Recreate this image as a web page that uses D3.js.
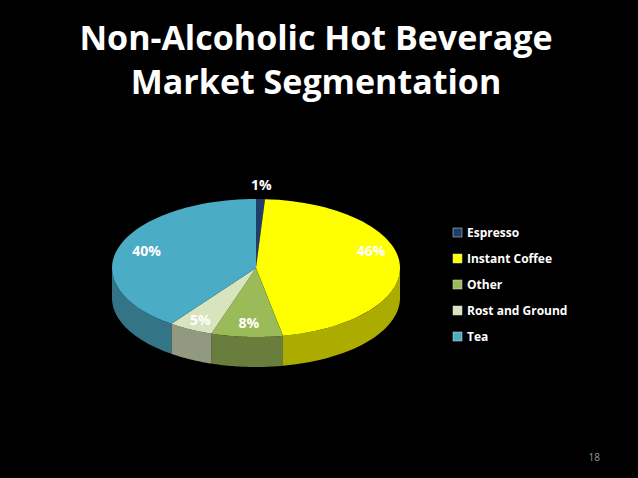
<!DOCTYPE html>
<html><head><meta charset="utf-8">
<script src="https://cdn.jsdelivr.net/npm/d3@7"></script>
<style>body{margin:0;background:#000}svg{display:block}</style>
</head><body>
<svg id="chart"></svg>
<script>
var categories = ["Espresso", "Instant Coffee", "Other", "Rost and Ground", "Tea"];
var values = [1, 46, 8, 5, 40];
var labels = ["1%", "46%", "8%", "5%", "40%"];
var colors = ["#1f3d6b", "#ffff00", "#9bbb59", "#d7e4bd", "#4bacc6"];

var width = 638, height = 478;
var cx = 256, cy = 268, rx = 144, ry = 69, depth = 30;

var svg = d3.select("#chart").attr("width", width).attr("height", height);

svg.append("text").attr("x", 316).attr("y", 50).attr("text-anchor", "middle")
  .attr("fill", "#fff").attr("font-family", "Open Sans").attr("font-weight", "bold")
  .attr("font-size", 34).text("Non-Alcoholic Hot Beverage");
svg.append("text").attr("x", 316).attr("y", 94).attr("text-anchor", "middle")
  .attr("fill", "#fff").attr("font-family", "Open Sans").attr("font-weight", "bold")
  .attr("font-size", 34).text("Market Segmentation");

var arcs = d3.pie().sort(null)(values);
// angle 0 = top, clockwise
function px(a, k) { return cx + Math.sin(a) * rx * (k || 1); }
function py(a, k) { return cy - Math.cos(a) * ry * (k || 1); }

var g = svg.append("g");

// sides (front half: angle between PI/2 and 3PI/2)
arcs.forEach(function(d, i) {
  var a0 = Math.max(d.startAngle, Math.PI / 2), a1 = Math.min(d.endAngle, 3 * Math.PI / 2);
  if (a1 <= a0) return;
  var n = 30, pts = [], j, a;
  for (j = 0; j <= n; j++) { a = a0 + (a1 - a0) * j / n; pts.push([px(a), py(a)]); }
  for (j = n; j >= 0; j--) { a = a0 + (a1 - a0) * j / n; pts.push([px(a), py(a) + depth]); }
  g.append("path").attr("d", d3.line()(pts) + "Z")
    .attr("fill", d3.color(colors[i]).darker(1.1));
});

// top faces
arcs.forEach(function(d, i) {
  var n = 60, pts = [[cx, cy]];
  for (var j = 0; j <= n; j++) {
    var a = d.startAngle + (d.endAngle - d.startAngle) * j / n;
    pts.push([px(a), py(a)]);
  }
  g.append("path").attr("d", d3.line()(pts) + "Z").attr("fill", colors[i]);
});

// labels
var labelK = [1.2, 0.8, 0.8, 0.85, 0.8];
arcs.forEach(function(d, i) {
  var a = (d.startAngle + d.endAngle) / 2;
  var dy = i === 1 ? -14 : 0;
  svg.append("text").attr("x", px(a, labelK[i])).attr("y", py(a, labelK[i]) + 5 + dy)
    .attr("text-anchor", "middle").attr("fill", "#fff")
    .attr("font-family", "Open Sans").attr("font-weight", "bold").attr("font-size", 14)
    .text(labels[i]);
});

// legend
var leg = svg.append("g").selectAll("g").data(categories).enter().append("g")
  .attr("transform", function(d, i) { return "translate(453," + (233 + i * 26) + ")"; });
leg.append("rect").attr("x", 0).attr("y", -5).attr("width", 9).attr("height", 9)
  .attr("fill", function(d, i) { return colors[i]; }).attr("stroke", "#ddd").attr("stroke-width", 0.5);
leg.append("text").attr("x", 14).attr("y", 4).attr("fill", "#fff")
  .attr("font-family", "Open Sans").attr("font-weight", "bold").attr("font-size", 12)
  .text(function(d) { return d; });

svg.append("text").attr("x", 600).attr("y", 461).attr("text-anchor", "end")
  .attr("fill", "#999").attr("font-family", "Open Sans").attr("font-size", 10).text("18");
</script>
</body></html>
